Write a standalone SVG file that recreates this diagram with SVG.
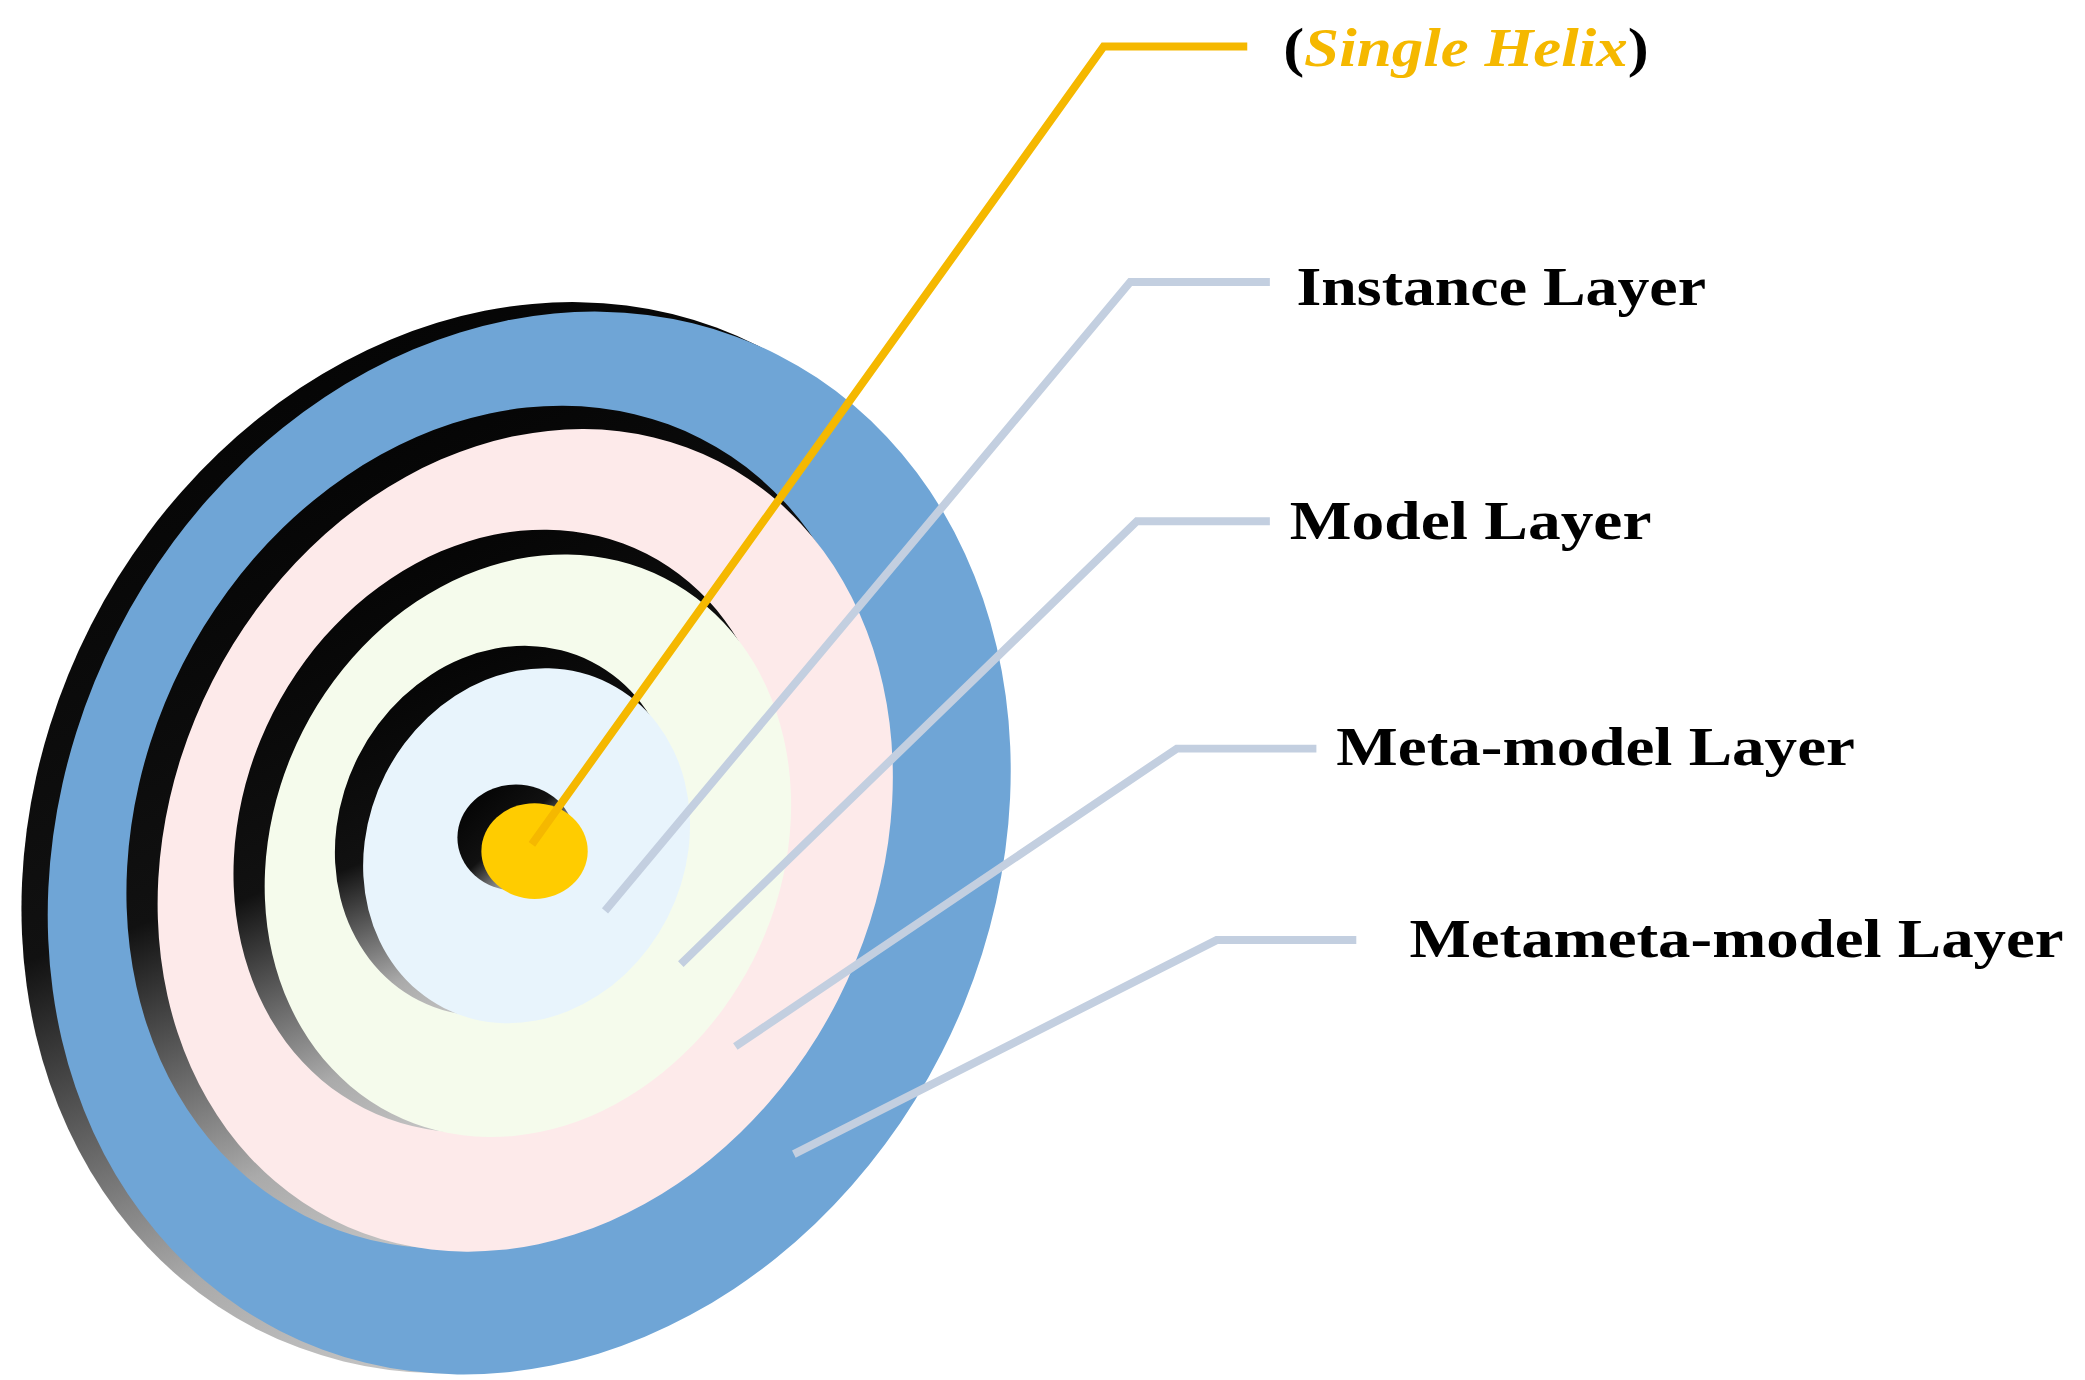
<svg xmlns="http://www.w3.org/2000/svg" width="2085" height="1380" viewBox="0 0 2085 1380">
<defs>
<linearGradient id="rim" x1="0" y1="0" x2="1" y2="1">
<stop offset="0" stop-color="#000"/><stop offset="0.45" stop-color="#111"/><stop offset="0.7" stop-color="#aaa"/><stop offset="1" stop-color="#eee"/>
</linearGradient>
<style>
.lbl{font-family:"Liberation Serif",serif;font-weight:bold;font-size:42px;fill:#000}
.ln{fill:none;stroke:#c3cfe0;stroke-width:6}
</style>
</defs>
<rect width="2085" height="1380" fill="#fff"/>
<g transform="scale(1.3297)">
<g id="metameta">
<ellipse cx="382" cy="630" rx="352" ry="415" transform="rotate(27 382 630)" fill="url(#rim)"/>
<ellipse cx="398" cy="634" rx="348" ry="412" transform="rotate(27 398 634)" fill="#6fa5d6"/>
</g>
<g id="meta">
<ellipse cx="378" cy="622" rx="270" ry="328" transform="rotate(27 378 622)" fill="url(#rim)"/>
<ellipse cx="395" cy="632" rx="264" ry="320" transform="rotate(27 395 632)" fill="#fdeaea"/>
</g>
<g id="model">
<ellipse cx="380" cy="625" rx="196" ry="234" transform="rotate(27 380 625)" fill="url(#rim)"/>
<ellipse cx="397" cy="636" rx="190" ry="226" transform="rotate(27 397 636)" fill="#f5fbec"/>
</g>
<g id="instance">
<ellipse cx="380" cy="625" rx="124" ry="143" transform="rotate(27 380 625)" fill="url(#rim)"/>
<ellipse cx="396" cy="636" rx="119" ry="137" transform="rotate(27 396 636)" fill="#e8f4fc"/>
</g>
<g id="helix">
<ellipse cx="388" cy="630" rx="44" ry="40" fill="url(#rim)"/>
<ellipse cx="402" cy="640" rx="40" ry="36" fill="#ffcc00"/>
</g>
<g id="connectors">
<polyline points="400,635 830,35 938,35" fill="none" stroke="#f5b800" stroke-width="6"/>
<polyline class="ln" points="455,685 850,212 955,212"/>
<polyline class="ln" points="512,725 855,392 955,392"/>
<polyline class="ln" points="553,787 885,563 990,563"/>
<polyline class="ln" points="597,868 915,707 1020,707"/>
</g>
<g id="labels">
<text class="lbl" x="965" y="50" textLength="275" lengthAdjust="spacingAndGlyphs">(<tspan fill="#f5b800" font-style="italic">Single Helix</tspan>)</text>
<text class="lbl" x="975" y="229" textLength="308" lengthAdjust="spacingAndGlyphs">Instance Layer</text>
<text class="lbl" x="970" y="405" textLength="272" lengthAdjust="spacingAndGlyphs">Model Layer</text>
<text class="lbl" x="1005" y="575" textLength="390" lengthAdjust="spacingAndGlyphs">Meta-model Layer</text>
<text class="lbl" x="1060" y="720" textLength="492" lengthAdjust="spacingAndGlyphs">Metameta-model Layer</text>
</g>
</g>
</svg>
